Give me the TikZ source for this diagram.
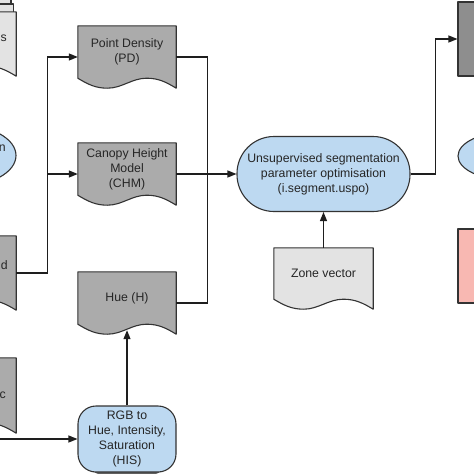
\documentclass[tikz,border=0pt]{standalone}
\usepackage{fontspec}
\setmainfont{Liberation Sans}
\usetikzlibrary{arrows.meta,calc,shapes.geometric,backgrounds}
\definecolor{docgray}{HTML}{ABABAB}
\definecolor{lightdoc}{HTML}{E3E3E3}
\definecolor{bluefill}{HTML}{BDD9F1}
\definecolor{pinkfill}{HTML}{F8B8B2}
\definecolor{darkfill}{HTML}{8E8E8E}
\definecolor{edge}{HTML}{333333}
\definecolor{wire}{HTML}{1E1E1E}
\definecolor{txt}{HTML}{262626}
\tikzset{
  lbl/.style={font=\fontsize{12.3}{15}\selectfont, text=txt},
  body/.style={lbl, draw=none, minimum width=98pt, minimum height=52pt, inner sep=0pt, align=center},
  outline/.style={draw=edge, line width=1.1pt, line join=round},
  boxnode/.style={lbl, outline, inner sep=0pt, align=center},
  wire/.style={draw=wire, line width=1.2pt},
  arr/.style={wire, -{Triangle[length=9pt,width=7pt]}},
}
\newcommand\docwave[2]{%
  \begin{scope}[on background layer]
  \path[outline, fill=#2] (#1.north west) -- (#1.north east) -- ($(#1.south east)+(0,10)$)
   .. controls ($(#1.south west)!0.9!(#1.south east)+(0,4)$) and ($(#1.south west)!0.82!(#1.south east)$) .. ($(#1.south west)!0.7!(#1.south east)$)
   .. controls ($(#1.south west)!0.55!(#1.south east)$) and ($(#1.south west)!0.45!(#1.south east)+(0,10)$) .. ($(#1.south west)!0.3!(#1.south east)+(0,10)$)
   .. controls ($(#1.south west)!0.18!(#1.south east)+(0,10)$) and ($(#1.south west)!0.1!(#1.south east)+(0,6)$) .. (#1.south west) -- cycle;
  \end{scope}}
\begin{document}
\begin{tikzpicture}[x=1pt,y=-1pt]
\useasboundingbox (0,0) rectangle (474,474);
\clip (0,0) rectangle (474,474);
\begin{scope}[on background layer]
\fill[white] (0,0) rectangle (474,474);
\path[outline, fill=lightdoc] (-84,-1) rectangle (11,50);
\path[outline, fill=lightdoc] (-83,4) rectangle (13.5,50);
\end{scope}

% left column (cropped)
\node[body, minimum height=54pt] (sdoc) at (-33,39) {};
\docwave{sdoc}{lightdoc}
\node[lbl, anchor=east, inner sep=0pt] (sfrag) at (7,38) {s};

\node[boxnode, ellipse, fill=bluefill, minimum width=110pt, minimum height=61pt] (lell) at (-39,155.5) {};
\node[lbl, anchor=east, inner sep=0pt] (nfrag) at (6,148) {n};

\node[body, minimum height=64pt] (ddoc) at (-33,268) {};
\docwave{ddoc}{docgray}
\node[lbl, anchor=east, inner sep=0pt] (dfrag) at (8,265) {d};

\node[body, minimum height=65pt] (cdoc) at (-33,390.5) {};
\docwave{cdoc}{docgray}
\node[lbl, anchor=east, inner sep=0pt] (cfrag) at (6,395) {c};

% middle column
\node[body] (PD) at (127,52) {Point Density\\(PD)};
\docwave{PD}{docgray}
\node[body] (CHM) at (127,169) {Canopy Height\\Model\\(CHM)};
\docwave{CHM}{docgray}
\node[body] (Hue) at (127,298) {Hue (H)};
\docwave{Hue}{docgray}

\fill[gray!75!black, rounded corners=18pt] (86,412) rectangle (168,475);
\node[boxnode, fill=bluefill, rounded corners=18pt, minimum width=98pt, minimum height=66pt] (RGB) at (127,439) {RGB to\\Hue, Intensity,\\Saturation\\(HIS)};

% centre
\node[boxnode, fill=bluefill, rounded corners=37pt, minimum width=173pt, minimum height=75pt] (uspo) at (323.5,174) {Unsupervised segmentation\\parameter optimisation\\(i.segment.uspo)};
\node[body, minimum width=99pt, minimum height=51pt] (zone) at (323.5,273.5) {Zone vector};
\docwave{zone}{lightdoc}

% right column (cropped)
\node[boxnode, fill=darkfill, minimum width=100pt, minimum height=74pt] (dark) at (508,39) {};
\node[boxnode, ellipse, fill=bluefill, minimum width=100pt, minimum height=48pt] (rell) at (508,156) {};
\node[boxnode, fill=pinkfill, minimum width=100pt, minimum height=74pt] (pink) at (508,266) {};

% connectors
\coordinate (src) at (-10,439);
\coordinate (jl) at (47,174);
\draw[arr] ([yshift=-5pt]ddoc.east) -- ++(31,0) |- ([yshift=-5pt]PD.west);
\draw[arr] (jl) -- ([yshift=-5pt]CHM.west);
\draw[wire] ([yshift=-5pt]PD.east) -- ++(31,0) |- ([yshift=-5pt]Hue.east);
\draw[arr] ([yshift=-5pt]CHM.east) -- (uspo.west);
\draw[arr] (RGB.north) -- ([yshift=-6pt]Hue.south);
\draw[arr] (src) -- (RGB.west);
\draw[arr] (zone.north) -- (uspo.south);
\draw[arr] (uspo.east) -- ++(25,0) |- (dark.west);
\end{tikzpicture}
\end{document}
